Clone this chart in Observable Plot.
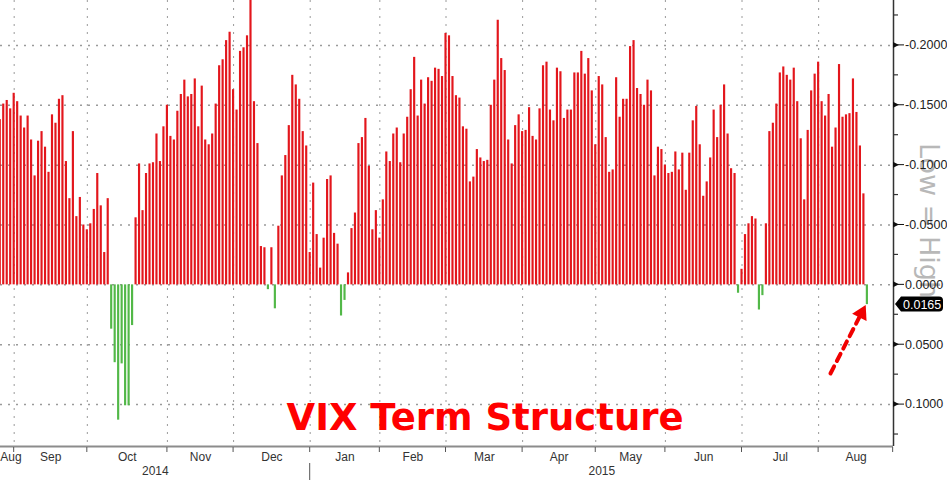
<!DOCTYPE html>
<html><head><meta charset="utf-8">
<script src="https://cdn.jsdelivr.net/npm/d3@7"></script>
<script src="https://cdn.jsdelivr.net/npm/@observablehq/plot@0.6"></script>
<style>
html,body{margin:0;padding:0;background:#fff;}
#chart{width:947px;height:480px;overflow:hidden;position:relative;}
</style></head><body><div id="chart"></div>
<script>
// VIX term structure spread, one value per trading day
const aug14 = [-0.138,-0.151,-0.154,-0.147];
const sep14 = [-0.160,-0.153,-0.141,-0.131,-0.141,-0.121,-0.091,-0.120,-0.128,-0.115,-0.094,-0.142,-0.135,-0.155,-0.158,-0.103,-0.072,-0.128,-0.057,-0.073,-0.050];
const oct14 = [-0.046,-0.051,-0.063,-0.093,-0.066,-0.027,-0.072,0.037,0.065,0.113,0.066,0.101,0.101,0.034,-0.056,-0.101,-0.062,-0.093,-0.101,-0.102,-0.126,-0.103,-0.132];
const nov14 = [-0.150,-0.124,-0.121,-0.145,-0.159,-0.171,-0.157,-0.159,-0.172,-0.132,-0.166,-0.121,-0.117,-0.126,-0.151,-0.183,-0.188,-0.204,-0.211];
const dec14 = [-0.163,-0.146,-0.195,-0.198,-0.208,-0.245,-0.153,-0.118,-0.032,-0.031,0.004,-0.031,0.020,-0.049,-0.091,-0.108,-0.133,-0.175,-0.167,-0.155,-0.128,-0.116];
const jan15 = [-0.027,-0.085,-0.042,-0.014,-0.039,-0.088,-0.091,-0.043,-0.034,0.026,0.013,-0.010,-0.047,-0.060,-0.118,-0.123,-0.139,-0.099,-0.046,-0.062];
const feb15 = [-0.039,-0.071,-0.111,-0.103,-0.126,-0.131,-0.102,-0.126,-0.140,-0.163,-0.190,-0.141,-0.171,-0.151,-0.173,-0.170,-0.181,-0.180,-0.174];
const mar15 = [-0.210,-0.208,-0.174,-0.158,-0.156,-0.132,-0.130,-0.086,-0.090,-0.113,-0.106,-0.103,-0.104,-0.150,-0.171,-0.221,-0.189,-0.179,-0.121,-0.101,-0.133,-0.142];
const apr15 = [-0.128,-0.129,-0.148,-0.124,-0.121,-0.147,-0.183,-0.186,-0.146,-0.137,-0.181,-0.178,-0.139,-0.146,-0.146,-0.177,-0.177,-0.195,-0.176,-0.189,-0.162];
const may15 = [-0.117,-0.174,-0.167,-0.123,-0.094,-0.096,-0.173,-0.140,-0.155,-0.155,-0.199,-0.204,-0.164,-0.159,-0.150,-0.171,-0.162,-0.091,-0.115,-0.113];
const jun15 = [-0.100,-0.093,-0.094,-0.111,-0.096,-0.110,-0.079,-0.110,-0.137,-0.149,-0.117,-0.074,-0.086,-0.106,-0.146,-0.123,-0.150,-0.167,-0.126,-0.097,-0.093,0.007];
const jul15 = [-0.013,-0.042,-0.051,-0.057,-0.055,0.021,0.009,-0.051,-0.128,-0.135,-0.151,-0.177,-0.182,-0.175,-0.171,-0.181,-0.153,-0.122,-0.071,-0.129,-0.162,-0.176];
const aug15 = [-0.186,-0.153,-0.141,-0.159,-0.115,-0.131,-0.184,-0.140,-0.142,-0.143,-0.172,-0.144,-0.116,-0.076,0.0165];

const months = [aug14,sep14,oct14,nov14,dec14,jan15,feb15,mar15,apr15,may15,jun15,jul15,aug15];
const monthLabels = ["Aug","Sep","Oct","Nov","Dec","Jan","Feb","Mar","Apr","May","Jun","Jul","Aug"];
const yearLabels = ["2014","2015"];
const yearFirstMonth = [0, 5];
const yTicks = [-0.2,-0.15,-0.1,-0.05,0,0.05,0.1];
const yMinorTicks = [-0.225,-0.175,-0.125,-0.075,-0.025,0.025,0.075,0.125];
const lastLabel = "0.0165";
const titleText = "VIX Term Structure";
const sideText = "Low = High";
// annotation arrow (tail -> tip), in (trading-day index, value)
const arrowTail = [238.4, 0.074];
const arrowBase = [246.7, 0.027];
const arrowHead = [247.3, 0.0237];

// build table
const data = [];
const monthStart = [];
let k = 0;
months.forEach((arr, m) => { monthStart.push(k); arr.forEach(v => data.push({i: k++, v, m})); });
const xMin = 0.07, xMax = 256.5;
const yBottom = 0.135, yTop = -0.2375;
const monthEnd = monthStart.slice(1).concat([xMax]);
const pxPerDay = 893 / (xMax - xMin);
const monthLabelData = monthLabels.map((label, m) => {
  let mid = (Math.max(monthStart[m], xMin) + monthEnd[m]) / 2;
  mid = Math.max(mid, xMin + 10.5 / pxPerDay);
  return {x: mid, label};
});
const yearLabelData = yearLabels.map((label, n) => {
  const s = Math.max(monthStart[yearFirstMonth[n]], xMin);
  const e = n + 1 < yearFirstMonth.length ? monthStart[yearFirstMonth[n + 1]] : xMax;
  return {x: (s + e) / 2, label};
});
const red = data.filter(d => d.v < 0);
const green = data.filter(d => d.v >= 0);
const fmt = d => d.toFixed(4);

function decor(index, scales, values, dims) {
  const {x, y} = scales;
  const {width, height, marginRight, marginBottom} = dims;
  const ax = width - marginRight;
  const ay = height - marginBottom;
  const g = d3.create("svg:g").attr("text-anchor", "start");
  // bottom ticks
  monthStart.slice(1).concat([xMax - 0.1]).forEach(s => {
    g.append("line").attr("x1", x(s)).attr("x2", x(s)).attr("y1", ay + 1).attr("y2", ay + 6)
      .attr("stroke", "#555").attr("stroke-width", 1);
  });
  // year separator
  const xs = x(monthStart[yearFirstMonth[1]]);
  g.append("line").attr("x1", xs).attr("x2", xs).attr("y1", ay + 17).attr("y2", height)
    .attr("stroke", "#555").attr("stroke-width", 1);
  // right axis line
  g.append("line").attr("x1", ax + 0.5).attr("x2", ax + 0.5).attr("y1", 0).attr("y2", ay)
    .attr("stroke", "#333").attr("stroke-width", 1.5);
  // minor ticks
  yMinorTicks.forEach(t => {
    g.append("line").attr("x1", ax).attr("x2", ax + 5).attr("y1", y(t)).attr("y2", y(t))
      .attr("stroke", "#333").attr("stroke-width", 1.2);
  });
  // side label
  g.append("text").attr("text-anchor", "start").attr("transform", `translate(${ax + 27},143) rotate(90)`)
    .attr("font-family", "DejaVu Sans, sans-serif").attr("font-size", 27)
    .attr("fill", "#b8b8b8").text(sideText);
  // major ticks + labels
  yTicks.forEach(t => {
    const yy = y(t);
    g.append("path").attr("d", `M${ax},${yy - 3}L${ax + 6},${yy}L${ax},${yy + 3}Z`).attr("fill", "#111");
    g.append("line").attr("x1", ax).attr("x2", ax + 11).attr("y1", yy).attr("y2", yy)
      .attr("stroke", "#111").attr("stroke-width", 1);
    g.append("text").attr("text-anchor", "start").attr("x", ax + 12).attr("y", yy).attr("dy", "0.35em")
      .attr("font-family", "Liberation Sans, Arial, sans-serif").attr("font-size", 12.5)
      .attr("fill", "#222").text(fmt(t));
  });
  // last value box
  const last = data[data.length - 1].v;
  const yc = y(last);
  g.append("path").attr("d", `M${ax + 2},${yc}L${ax + 8},${yc - 7.5}L${ax + 46},${yc - 7.5}Q${ax + 50},${yc - 7.5} ${ax + 50},${yc - 3.5}L${ax + 50},${yc + 3.5}Q${ax + 50},${yc + 7.5} ${ax + 46},${yc + 7.5}L${ax + 8},${yc + 7.5}Z`)
    .attr("fill", "#000");
  g.append("text").attr("text-anchor", "start").attr("x", ax + 10).attr("y", yc).attr("dy", "0.36em")
    .attr("font-family", "Liberation Sans, Arial, sans-serif").attr("font-size", 12.5)
    .attr("fill", "#fff").text(lastLabel);
  return g.node();
}

const chart = Plot.plot({
  width: 947, height: 480,
  marginLeft: 0, marginRight: 54, marginTop: 0, marginBottom: 34,
  x: {domain: [xMin, xMax], axis: null},
  y: {domain: [yBottom, yTop], axis: null},
  style: {background: "#fff", fontFamily: "Liberation Sans, Arial, sans-serif"},
  marks: [
    Plot.ruleY(yTicks, {stroke: "#9a9a9a", strokeWidth: 1.5, strokeDasharray: "2,6"}),
    Plot.ruleX(monthStart.slice(1), {stroke: "#9a9a9a", strokeWidth: 1, strokeDasharray: "2,6"}),
    Plot.rect(red, {x1: d => d.i - 0.31, x2: d => d.i + 0.31, y1: () => 0, y2: "v", fill: "#e3161c", clip: true}),
    Plot.rect(green, {x1: d => d.i - 0.31, x2: d => d.i + 0.31, y1: () => 0, y2: "v", fill: "#52b848", clip: true}),
    Plot.ruleY([yBottom], {stroke: "#8c8c8c", strokeWidth: 2}),
    Plot.text(monthLabelData, {x: "x", y: () => yBottom, text: "label", dy: 11, lineAnchor: "middle", fontSize: 12, fill: "#333"}),
    Plot.text(yearLabelData, {x: "x", y: () => yBottom, text: "label", dy: 25, lineAnchor: "middle", fontSize: 12, fill: "#333"}),
    Plot.text([titleText], {frameAnchor: "bottom-left", textAnchor: "start", lineAnchor: "bottom", dx: 286, dy: -17,
      fontSize: 37, fontWeight: "bold", fontFamily: "DejaVu Sans, sans-serif", fill: "#ff0000"}),
    Plot.link([{a: arrowTail, b: arrowBase}], {x1: d => d.a[0], y1: d => d.a[1], x2: d => d.b[0], y2: d => d.b[1],
      stroke: "#f00000", strokeWidth: 4, strokeDasharray: "8,6", strokeLinecap: "round"}),
    Plot.dot([arrowHead], {x: d => d[0], y: d => d[1], symbol: "triangle", r: 6, fill: "#f00000", stroke: "none", rotate: 27}),
    decor
  ]
});
document.getElementById("chart").appendChild(chart);
</script>
</body></html>
